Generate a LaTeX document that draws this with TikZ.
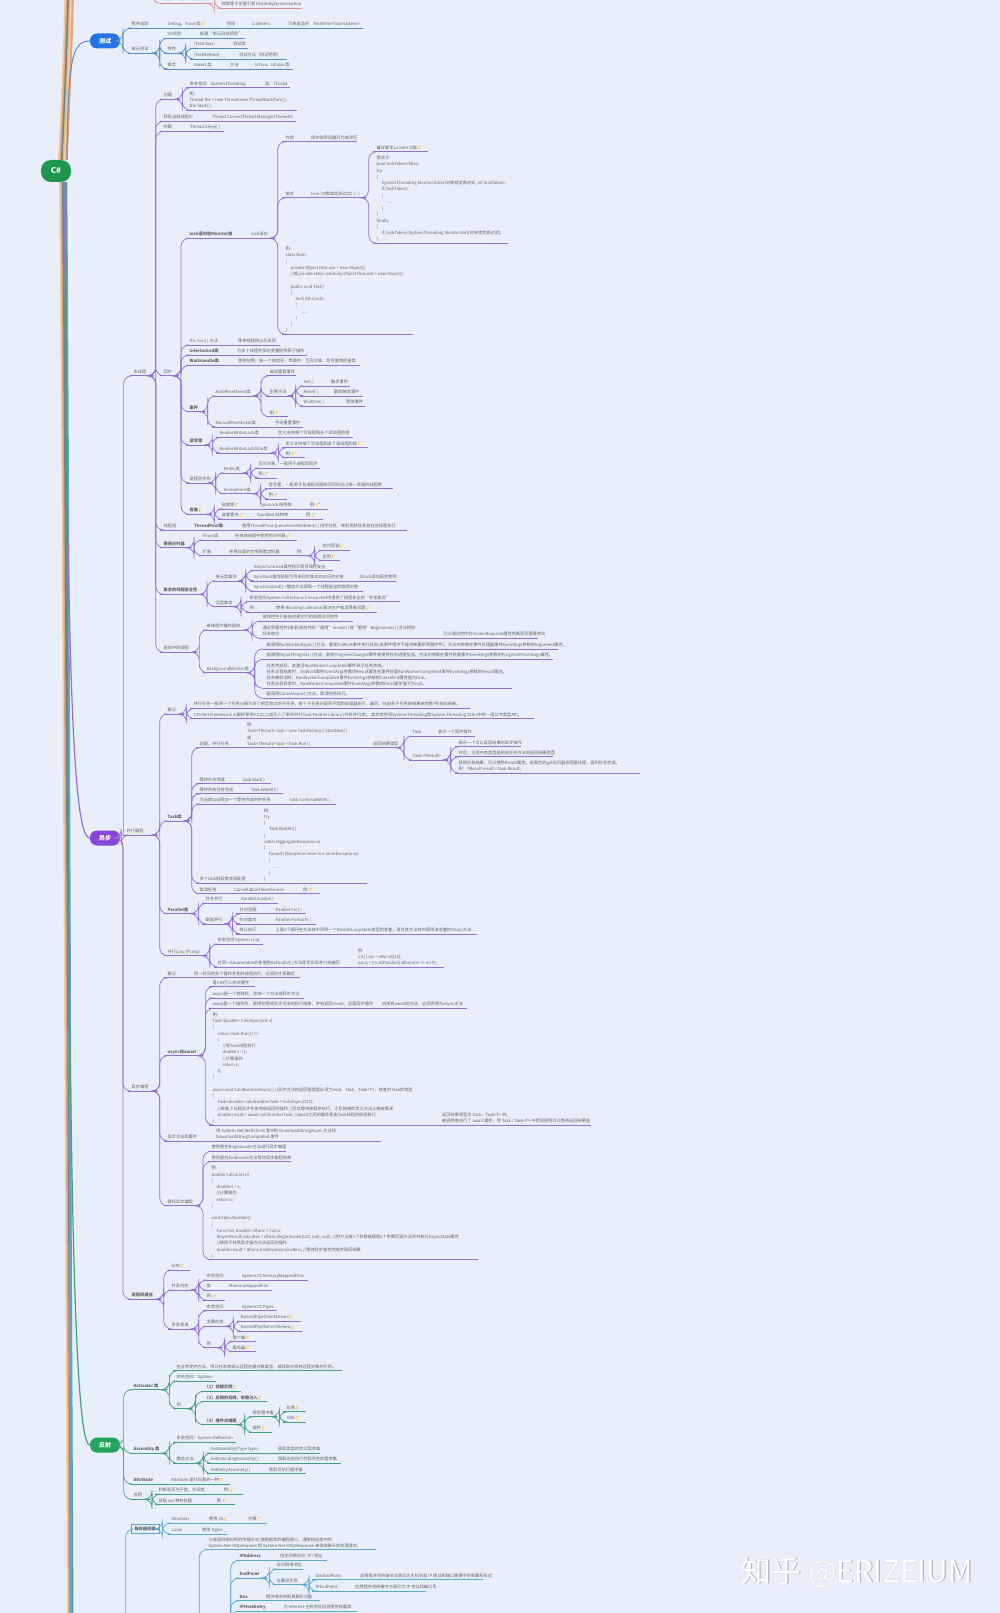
\documentclass[tikz,border=0pt]{standalone}
\usepackage{fontspec}
\setmainfont{Noto Sans CJK SC}
\usetikzlibrary{calc,backgrounds}
\definecolor{pagebg}{RGB}{232,239,250}
\definecolor{txtgray}{RGB}{98,98,98}
\definecolor{pinkline}{RGB}{215,140,150}
\definecolor{testblue}{RGB}{90,140,200}
\definecolor{testpill}{RGB}{38,115,225}
\definecolor{asyncline}{RGB}{148,112,208}
\definecolor{asyncpill}{RGB}{135,70,215}
\definecolor{reflline}{RGB}{70,160,125}
\definecolor{reflpill}{RGB}{34,165,90}
\definecolor{rootgreen}{RGB}{30,150,78}
\definecolor{netline}{RGB}{90,170,205}
\definecolor{peach}{RGB}{244,205,165}
\definecolor{tan}{RGB}{222,165,120}
\definecolor{slate}{RGB}{115,125,140}
\definecolor{khaki}{RGB}{205,195,130}
\definecolor{salmon}{RGB}{235,160,130}
\definecolor{teal}{RGB}{75,160,150}
\definecolor{steel}{RGB}{105,160,200}
\definecolor{icoline}{RGB}{240,175,60}
\definecolor{icofill}{RGB}{252,240,200}
\colorlet{brc}{testblue}
\tikzset{
    topic/.style={anchor=south west,inner xsep=0pt,inner ysep=0.3pt,text=txtgray,font=\fontsize{4.2}{6.25}\selectfont},
    tline/.style={draw=brc,line width=.7pt},
    link/.style={draw=brc,line width=.7pt,rounded corners=8pt},
    mainnode/.style={rounded corners=7pt,text=white,font=\fontsize{6}{7}\selectfont\bfseries,minimum width=30pt,minimum height=15pt,inner sep=0pt},
    bundle/.style={line width=2pt},
}
% curved link between two named points
\newcommand\lk[2]{\draw[link] (#1) -| ($(#1)!.35!(#2)$) |- (#2);}
% topic: name, parent, x from, x to, y of the underline, text
\newcommand\tpc[6]{%
    \pgfmathsetmacro\tpw{#4-#3}%
    \node[topic] (#1) at (#3,#5) {\makebox[\tpw pt][l]{\begin{tabular}[b]{@{\hspace{3.5pt}}l@{}}#6\end{tabular}}};%
    \draw[tline] (#1.south west) -- (#1.south east);%
    \ifx\relax#2\relax\else\lk{#2.south east}{#1.south west}\fi}
% topic in line with the one before: name, before, x of text, x to, y, text
\newcommand\tch[6]{%
    \pgfmathsetmacro\tcx{#3-3.5}%
    \tpc{#1}{}{\tcx}{#4}{#5}{#6}%
    \draw[tline] (#2.south east) -- (#1.south west);}
\newcommand\ico{\,\tikz[x=1pt,y=1pt,baseline=0.2pt]{\fill[icofill] (2,1.8) circle (1.8);\draw[icoline,line width=.45pt] (3.2,3.2) arc (50:250:1.8);}}
\newcommand\ind{\hspace*{5pt}}

\begin{document}
\begin{tikzpicture}[x=1pt,y=-1pt]
    \useasboundingbox (0,0) rectangle (1000,1613);

    % Root
    \node[mainnode,fill=rootgreen,rounded corners=10pt,minimum height=22pt,font=\fontsize{8}{9}\selectfont\bfseries] (csharp) at (56,171) {C\#};

    % Free ends of the branches that leave the picture
    \coordinate (pinkfrom) at (148,-20);
    \coordinate (netfrom) at (123,1630);
    \coordinate (httpfrom) at (196,1630);
    \coordinate (ipfrom) at (228,1630);

    % Main branch nodes
    \node[mainnode,fill=testpill] (ceshi) at (105,41) {测试};
    \node[mainnode,fill=asyncpill] (yibu) at (105,838) {异步};
    \node[mainnode,fill=reflpill] (fanshe) at (105,1445) {反射};

    \begin{scope}[on background layer]
        \fill[pagebg] (0,0) rectangle (1000,1613);
        \foreach \dx/\cc in {3/peach,4.5/tan,6/slate,7.5/khaki,9/peach,10.5/salmon}
            \draw[bundle,\cc] ($(csharp.north)+(\dx,0)$) .. controls +(3,-60) and +(-1.5,55) .. +(6.5,-165);
        \foreach \dx/\cc in {4/peach,5.5/tan,7/slate,8.5/teal}
            \draw[bundle,\cc] ($(csharp.south)+(\dx,0)$) .. controls +(3,300) and +(-3,-640) .. +(8,1440);
        \draw[line width=2.6pt,steel] ($(csharp.south)+(10,0)$) .. controls +(2,300) and +(-1,-640) .. +(5,1440);
        \draw[line width=1pt,testblue] ($(csharp.north)+(11,0)$) .. controls +(1,-100) and +(-18,0) .. (ceshi.west);
        \draw[line width=1.2pt,asyncline] ($(csharp.south)+(8,0)$) .. controls +(4,420) and +(-20,0) .. (yibu.west);
        \draw[line width=1.2pt,reflline] ($(csharp.south)+(10,0)$) .. controls +(2,820) and +(-20,0) .. (fanshe.west);
    \end{scope}

    % Exceptions (end of the branch above)
    \colorlet{brc}{pinkline}
    \tpc{yichang}{}{160}{212}{3.3}{处理 Exception 类异常}
    \lk{pinkfrom}{yichang.south west}
    \tpc{chuling}{yichang}{218}{302}{8.3}{除数等于定值引发 DivideByZeroException}

    % Testing
    \colorlet{brc}{testblue}
    \tpc{zhuizong}{}{128}{165}{28}{程序追踪}
    \lk{ceshi.east}{zhuizong.south west}
    \tch{debug}{zhuizong}{168}{225}{28}{Debug、Trace 类\ico}
    \tch{zhenting}{debug}{227}{250}{28}{侦听}
    \tch{listeners}{zhenting}{252}{285}{28}{Listeners}
    \tch{kelai}{listeners}{288}{311}{28}{可来自监听}
    \tch{twtl}{kelai}{313}{363}{28}{TextWriterTraceListener}
    \tpc{danyuan}{}{128}{157}{53.3}{单元测试}
    \lk{ceshi.east}{danyuan.south west}
    \tpc{vsproj}{danyuan}{164}{198}{38.3}{VS项目}
    \tch{xinjian}{vsproj}{200}{245}{38.3}{新建“单元测试项目”}
    \tpc{texing}{danyuan}{164}{183}{53.3}{特性}
    \tpc{testclass}{texing}{190}{232}{48.3}{[TestClass]}
    \tch{ceshilei}{testclass}{233}{248}{48.3}{测试类}
    \tpc{testmethod}{texing}{190}{237}{59}{[TestMethod]}
    \tch{ceshifa}{testmethod}{239}{287}{59}{测试方法（测试用例）}
    \tpc{duanyan}{danyuan}{164}{192}{69}{断言}
    \tch{assert}{duanyan}{194}{228}{69}{Assert 类}
    \tch{fangfa}{assert}{230}{252}{69}{方法}
    \tch{istrue}{fangfa}{255}{293}{69}{IsTrue、IsFalse 等}

    % Multithreading
    \colorlet{brc}{asyncline}
    \tpc{duo}{}{130}{153}{375.7}{多线程}
    \lk{yibu.east}{duo.south west}
    \tpc{chuangjian}{duo}{160}{180}{99.3}{创建}
    \tpc{nsthread}{chuangjian}{186}{263}{87.7}{命名空间：System.Threading}
    \tch{clsthread}{nsthread}{265}{290}{87.7}{类：Thread}
    \tpc{egthread}{chuangjian}{186}{297}{110.3}{例:\\Thread the = new Thread(new ThreadStart(Func));\\the.Start( );}
    \tpc{dangqian}{duo}{160}{210}{121.3}{获取当前线程ID}
    \tch{managedid}{dangqian}{212}{296}{121.3}{Thread.CurrentThread.ManagedThreadId}
    \tpc{xiumian}{duo}{160}{187}{131.3}{休眠}
    \tch{sleep}{xiumian}{190}{224}{131.3}{Thread.Sleep( )}
    \tpc{tongbu}{duo}{160}{178}{375.7}{同步}

    % lock and Monitor
    \tpc{lockcls}{tongbu}{186}{249}{238.3}{\textbf{lock语句和Monitor类}}
    \tch{lockstmt}{lockcls}{251}{275}{238.3}{lock语句}
    \tpc{zuoyong}{lockstmt}{282}{309}{141.7}{作用}
    \tch{baohu}{zuoyong}{311}{357}{141.7}{保护临界段避开为临界区}
    \tpc{geshi}{lockstmt}{282}{309}{197.7}{格式}
    \tch{lockfmt}{geshi}{311}{366}{197.7}{lock (对象锁定表达式) \{...\}}
    \tpc{zuihao}{lockfmt}{373}{428}{151.7}{最好锁定 private 对象\ico}
    \tpc{dengxiao}{lockfmt}{373}{508}{243.3}{等效于:\\bool lockTaken=false;\\try\\\{\\\ind System.Threading.Monitor.Enter(对象锁定表达式, ref lockTaken);\\\ind if (lockTaken)\\\ind \{\\\ind\ind ......\\\ind \}\\\}\\finally\\\{\\\ind if (lockTaken) System.Threading.Monitor.Exit(对象锁定表达式);\\\}}
    \tpc{egnum}{lockstmt}{282}{413}{334.3}{例:\\class Num\\\{\\\ind private Object thisLock = new Object();\\\ind //或 private static readonly Object thisLock = new Object();\\\\\ind public void Test()\\\ind \{\\\ind\ind lock (thisLock)\\\ind\ind \{\\\ind\ind\ind ......\\\ind\ind \}\\\ind \}\\\}}

    % Other synchronisation
    \tpc{join}{tongbu}{186}{236}{345}{thr.Join( ) 方法}
    \tch{dengdai}{join}{238}{280}{345}{等待线程终止后返回}
    \tpc{interlocked}{tongbu}{186}{234}{355}{\textbf{Interlocked类}}
    \tch{yuanzi}{interlocked}{237}{307}{355}{为多个线程共享的变量提供原子操作}
    \tpc{waithandle}{tongbu}{186}{234}{365.3}{\textbf{WaitHandle类}}
    \tch{jilei}{waithandle}{238}{360}{365.3}{等待句柄，接一个接信号、等事件、互斥对象、信号量等的基类}
    \tpc{shijian}{tongbu}{186}{205}{411.7}{\textbf{事件}}
    \tpc{autoreset}{shijian}{212}{258}{396}{AutoResetEvent类}
    \tpc{zidong}{autoreset}{266}{296}{375.7}{自动重置事件}
    \tpc{zhuyao}{autoreset}{266}{293}{396}{主要方法}
    \tpc{setfn}{zhuyao}{300}{328}{386}{Set( )}
    \tch{chufa}{setfn}{331}{350}{386}{触发事件}
    \tpc{resetfn}{zhuyao}{300}{332}{396}{Reset( )}
    \tch{jiechu}{resetfn}{334}{363}{396}{解除触发事件}
    \tpc{waitone}{zhuyao}{300}{343}{406.3}{WaitOne( )}
    \tch{dengshi}{waitone}{346}{365}{406.3}{等待事件}
    \tpc{egauto}{autoreset}{266}{288}{416.7}{例:\ico}
    \tpc{manualreset}{shijian}{212}{272}{427}{ManualResetEvent类}
    \tch{shoudong}{manualreset}{275}{303}{427}{手动重置事件}
    \tpc{duxie}{tongbu}{186}{210}{445}{\textbf{读写锁}}
    \tpc{rwlock}{duxie}{216}{276}{437.3}{ReaderWriterLock类}
    \tch{rwdef}{rwlock}{278}{353}{437.3}{定义支持单个写线程和多个读线程的锁}
    \tpc{rwslim}{duxie}{216}{276}{453}{ReaderWriterLockSlim类}
    \tpc{rwslimdef}{rwslim}{282}{368}{447.7}{定义支持单个写线程和多个读线程的锁\ico}
    \tpc{egslim}{rwslim}{282}{305}{457.7}{例:\ico}
    \tpc{jincheng}{tongbu}{186}{213}{483}{进程同步的}
    \tpc{mutex}{jincheng}{220}{248}{473}{Mutex类}
    \tpc{huchi}{mutex}{255}{320}{468}{互斥对象，一般用于进程间同步}
    \tpc{egmutex}{mutex}{255}{277}{478}{例:\ico}
    \tpc{semaphore}{jincheng}{220}{258}{493.7}{Semaphore类}
    \tpc{xinhao}{semaphore}{265}{393}{488.7}{信号量，一般用于在进程间限制可同时访问某一资源的线程数}
    \tpc{egsema}{semaphore}{265}{287}{499}{例:\ico}
    \tpc{zixuan}{tongbu}{186}{212}{514.3}{\textbf{自旋}\ico}
    \tpc{zxsuo}{zixuan}{218}{258}{509}{自旋锁\ico}
    \tch{spinlock}{zxsuo}{260}{308}{509}{SpinLock 结构体}
    \tch{egspinl}{spinlock}{310}{328}{509}{例:\ico}
    \tpc{zxdeng}{zixuan}{218}{255}{519.3}{自旋等待\ico}
    \tch{spinwait}{zxdeng}{257}{305}{519.3}{SpinWait 结构体}
    \tch{egspinw}{spinwait}{306}{323}{519.3}{例:\ico}

    % Thread pool, timers, collections, forms
    \tpc{xianchengchi}{duo}{160}{192}{530}{线程池}
    \tch{threadpool}{xianchengchi}{194}{240}{530}{\textbf{ThreadPool类}}
    \tch{queueuser}{threadpool}{242}{407}{530}{使用ThreadPool.QueueUserWorkItem( ) 排字任务，来利用默任务放在池线程执行}
    \tpc{jishiqi}{duo}{160}{191}{547.7}{\textbf{使用计时器}}
    \tpc{timercls}{jishiqi}{199}{233}{540}{Timer类}
    \tch{dandu}{timercls}{235}{297}{540}{在单独线程中使用的计时器\ico}
    \tpc{kuozhan}{jishiqi}{199}{228}{555.7}{扩展}
    \tch{zhuanyong}{kuozhan}{229}{295}{555.7}{并用处理的专用隐置定时器}
    \tch{egtimer}{zhuanyong}{297}{312}{555.7}{例:}
    \tpc{huidiao}{egtimer}{319}{350}{550.3}{定时回调\ico}
    \tpc{dingyong}{egtimer}{319}{340}{560.7}{定用\ico}
    \tpc{jihe}{duo}{160}{204}{594.3}{\textbf{集合的线程安全性}}
    \tpc{danyuanxing}{jihe}{212}{243}{581}{单元型集合}
    \tpc{issync}{danyuanxing}{250}{333}{570.7}{IsSynchronized属性指示是否线程安全}
    \tpc{syncroot}{danyuanxing}{250}{358}{581}{SyncRoot属性获取可用来同步集合的访问的对象}
    \tch{lockuse}{syncroot}{359}{396}{581}{与lock语句配合使用}
    \tpc{syncfn}{danyuanxing}{250}{363}{591.3}{Synchronized()—静态方法获取一个线程安全的临界对象}
    \tpc{fanxing}{jihe}{212}{238}{606.7}{泛型集合}
    \tpc{concurrent}{fanxing}{246}{400}{601.7}{命名空间System.Collections.Concurrent中提供了线程安全的“并发集合”}
    \tpc{egcoll}{fanxing}{246}{275}{612}{例:}
    \tch{blocking}{egcoll}{276}{377}{612}{使用 BlockingCollection 解决生产者消费者问题\ico}
    \tpc{chuangti}{duo}{160}{197}{652.3}{窗体中的线程}
    \tpc{dancaozuo}{chuangti}{203}{248}{630}{单线程中操作窗体}
    \tpc{zhiyong}{dancaozuo}{259}{353}{621}{窗体控件只能由创建它们的线程访问控件}
    \tpc{tongguo}{dancaozuo}{259}{441}{638.3}{通过界面控件(继承)或控件的“调用”Invoke( )或“重用”BeginInvoke( )方法将控\\任务转交}
    \tch{invokereq}{tongguo}{443}{538}{638.3}{可以通过控件的InvokeRequired属性判断是否需要转交}
    \tpc{bgworker}{chuangti}{203}{250}{672.7}{BackgroundWorker类}
    \tpc{bgrun}{bgworker}{263}{558}{649}{能调用RunWorkerAsync( )方法，激发DoWork事件执行任务(该事件程序不能用来更新界面控件)。方法的参数在事件处理器事件EventArgs参数的Argument属性。}
    \tpc{bgreport}{bgworker}{263}{553}{659.3}{能调用ReportProgress( )方法，激发ProgressChanged事件来提供任务进度信息。方法的参数在事件处理事件EventArgs参数的ProgressPercentage属性。}
    \tpc{bgdone}{bgworker}{263}{512}{688.3}{任务完成后，会激活RunWorkerCompleted事件表示任务完成。\\任务正常结束时，DoWork事件EventArgs参数的Result属性在事件处理RunWorkerCompleted事件EventArgs参数的Result属性。\\任务被取消时，RunWorkerCompleted事件EventArgs参数的Cancelled属性值为true。\\任务出现异常时，RunWorkerCompleted事件EventArgs参数的Error属性值不为null。}
    \tpc{bgcancel}{bgworker}{263}{363}{698.3}{能调用CancelAsync( )方法，取消任务执行。}

    % Parallel programming
    \tpc{bingxing}{}{123}{157}{835}{并行编程}
    \lk{yibu.east}{bingxing.south west}
    \tpc{gainian}{bingxing}{164}{184}{714}{概念}
    \tpc{fenjie}{gainian}{190}{470}{708.3}{并行任务一般将一个任务分解为多个相互独立的子任务，每个子任务分配到不同的处理器执行，最后，往由各子任务的结果来完整?任务的结果。}
    \tpc{tpl}{gainian}{190}{534}{718.7}{C\#3.Net Framework 4(最好使用4.5)以上成引入了新的并行Task Parallel Library (任务并行库)，其命名空间System.Threading和System.Threading.Tasks中的一组公共类型API。}
    \tpc{taskcls}{bingxing}{164}{189}{821}{\textbf{Task类}}
    \tpc{chuangbing}{taskcls}{196}{243}{747.7}{创建、并行任务}
    \tch{egtask}{chuangbing}{247}{372}{747.7}{例:\\Task<TResult> task = new TaskFactory().StartNew( )\\或\\Task<TResult> task = Task.Run( )}
    \tch{fanhui}{egtask}{373}{401}{747.7}{返回结果类型}
    \tpc{tasktype}{fanhui}{409}{437}{736.3}{Task}
    \tch{yibucz}{tasktype}{438}{475}{736.3}{表示一个异步操作}
    \tpc{tasktr}{fanhui}{409}{448}{760}{Task<TResult>}
    \tpc{trone}{tasktr}{455}{521}{746.7}{表示一个可以返回结果的异步操作}
    \tpc{trtwo}{tasktr}{455}{553}{756.7}{并且，注意中类类型是用该任务方法的返回结果类型}
    \tpc{trthree}{tasktr}{455}{640}{773}{获得任务结果，可以使用Result属性。该属性的get访问器会阻塞线程，直到任务完成。\\例：TResult result = task.Result;}
    \tpc{waitone2}{taskcls}{196}{241}{783.7}{等待任务完成}
    \tch{taskwait}{waitone2}{243}{271}{783.7}{task.Wait( )}
    \tpc{waitall}{taskcls}{196}{249}{793.7}{等待所有任务完成}
    \tch{taskwaitall}{waitall}{251}{283}{793.7}{Task.WaitAll( )}
    \tpc{fujia}{taskcls}{196}{288}{804}{为当前task附加一个等待完成时的任务}
    \tch{contwith}{fujia}{290}{336}{804}{task.ContinueWith( )}
    \tpc{paoyc}{taskcls}{196}{262}{883.3}{多个task抛异常会再处理}
    \tch{egtry}{paoyc}{264}{367}{883.3}{例:\\try\\\{\\\ind Task.WaitAll( )\\\}\\catch (AggregateException e)\\\{\\\ind foreach (Exception inner in e.InnerExceptions)\\\ind \{\\\ind\ind ......\\\ind \}\\\}}
    \tpc{quxiao}{taskcls}{196}{232}{893.7}{取消任务}
    \tch{canceltoken}{quxiao}{234}{301}{893.7}{CancellationTokenSource}
    \tch{egcancel}{canceltoken}{303}{320}{893.7}{例:\ico}
    \tpc{parallel}{bingxing}{164}{196}{913.7}{\textbf{Parallel类}}
    \tpc{renwubx}{parallel}{202}{239}{903.3}{任务并行}
    \tch{parinvoke}{renwubx}{241}{278}{903.3}{Parallel.Invoke( )}
    \tpc{shujubx}{parallel}{202}{230}{924}{数据并行}
    \tpc{fanwei}{shujubx}{236}{274}{913.7}{针对范围}
    \tch{parfor}{fanwei}{275.5}{306}{913.7}{Parallel.For( )}
    \tpc{duijihe}{shujubx}{236}{274}{924}{针对集合}
    \tch{parforeach}{duijihe}{275.5}{316}{924}{Parallel.ForEach( )}
    \tpc{zhongzhi}{shujubx}{236}{274}{934}{终止执行}
    \tch{stopfn}{zhongzhi}{275.5}{477}{934}{上面3个循环在方法体中声明一个ParallelLoopState类型的变量，再在其方法体内调用该变量的Stop()方法}
    \tpc{plinq}{bingxing}{164}{207}{955.7}{并行Linq (PLinq)}
    \tpc{nslinq}{plinq}{214}{263}{944}{命名空间 System.Linq}
    \tpc{asparallel}{plinq}{214}{355}{967}{对同一Enumerable对象使用AsParallel( )方法即可实现并行的遍历}
    \tch{eglinq}{asparallel}{358}{444}{967}{例:\\int[ ] var = new int[10];\\var q = (m.AsParallel().Where(m => m>5);}

    % Asynchronous programming
    \tpc{yibubc}{}{128}{157}{1091}{异步编程}
    \lk{yibu.east}{yibubc.south west}
    \tpc{gainian2}{yibubc}{164}{192}{977.7}{概念}
    \tch{tongyi}{gainian2}{194}{300}{977.7}{同一时间的多个操作并发的线程执行，必须时才再确定}
    \tpc{asyncawait}{yibubc}{164}{203}{1055.7}{\textbf{async和await}}
    \tpc{guanjian}{asyncawait}{209}{255}{986.7}{是C\#5引入的关键字}
    \tpc{asyncmod}{asyncawait}{209}{304}{998}{async是一个修饰符，修饰一个方法成异步方法}
    \tpc{awaitop}{asyncawait}{209}{380}{1008.3}{await是一个操作符，表明在等待异步方法的执行结束，并有返回result，后面异步操作}
    \tch{neibu}{awaitop}{382}{467}{1008.3}{内部有await的方法，必须声明为async方法}
    \tpc{egasync}{asyncawait}{209}{440}{1125}{例:\\Task<double> CalcAsync(int n)\\\{\\\ind return Task.Run(() =>\\\ind \{\\\ind\ind //用Task线程执行\\\ind\ind double s = 1;\\\ind\ind //计算操作\\\ind\ind return s;\\\ind \});\\\}\\\\async void CalcNumberAsync( ) //异步方法的返回值类型必须为void、Task、Task<T>，或者对Task的类型\\\{\\\ind Task<double> calcNumberTask = CalcAsync(123);\\\ind //单独了长耗异步任务完成返回的操作 //后续等待该程序执行，之后结果的定义方法上便被等来\\\ind double result = await calcNumberTask; //await之后的操作是由Task线程的继续执行\\\}}
    \tch{fanhuizhi}{egasync}{442}{591}{1125}{返回结果类型为 Task、Task<T> 时,\\被调用者执行了 await 操作，而 Task / Task<T> 中检测调用可以等待返回结果值}
    \tpc{yibufa}{yibubc}{164}{212}{1141}{异步方法和事件}
    \tch{webclient}{yibufa}{216}{381}{1141}{用 System.Net.WebClient 类中的 DownloadStringAsync 方法和\\DownloadStringCompleted 事件}
    \tpc{weituo}{yibubc}{164}{200}{1205.7}{委托异步编程}
    \tpc{begininv}{weituo}{208}{286}{1151.3}{使用委托BeginInvoke方法进行异步编程}
    \tpc{endinv}{weituo}{208}{291}{1161.7}{使用委托EndInvoke方法等待异步编程结束}
    \tpc{egcalcu}{weituo}{208}{478}{1259.7}{例:\\double Calcu(int n)\\\{\\\ind double s = 1;\\\ind //计算操作\\\ind return s;\\\}\\\\void CalcuNumber()\\\{\\\ind Func<int, double> dFunc = Calcu;\\\ind IAsyncResult calcuRes = dFunc.BeginInvoke(123, null, null); //把方法放1个参数被赋值2个参数回调方法并并执行AsyncState属性\\\ind //继续干耗费异步操作方法返回的操作\\\ind double result = dFunc.EndInvoke(calcuRes); //等待异步操作完成并取回结果\\\}}

    % Inter-process communication
    \tpc{jinchengjian}{}{128}{161}{1299.3}{\textbf{进程间通信}}
    \lk{yibu.east}{jinchengjian.south west}
    \tpc{fenbu}{jinchengjian}{168}{190}{1270}{分布\ico}
    \tpc{gongxiang}{jinchengjian}{168}{196}{1290}{共享内存}
    \tpc{nsmem}{gongxiang}{203}{240}{1280}{命名空间}
    \tch{memfiles}{nsmem}{241.7}{308}{1280}{System.IO.MemoryMappedFiles}
    \tpc{lei}{gongxiang}{203}{228}{1290.3}{类}
    \tch{memfile}{lei}{229}{272}{1290.3}{MemoryMappedFile}
    \tpc{egmem}{gongxiang}{203}{225}{1300.3}{例:\ico}
    \tpc{guandao}{jinchengjian}{168}{196}{1329}{命名管道}
    \tpc{nspipe}{guandao}{203}{240}{1310.7}{命名空间}
    \tch{iopipes}{nspipe}{241.7}{277}{1310.7}{System.IO.Pipes}
    \tpc{zhuyaolei}{guandao}{203}{231}{1326.3}{主要的类}
    \tpc{pipeclient}{zhuyaolei}{237}{301}{1321.3}{NamedPipeClientStream\ico}
    \tpc{pipeserver}{zhuyaolei}{237}{302}{1331.3}{NamedPipeServerStream\ico}
    \tpc{egpipe}{guandao}{203}{222}{1347.7}{例}
    \tpc{kehuduan}{egpipe}{229}{256}{1341.7}{客户端\ico}
    \tpc{fuwuqi}{egpipe}{229}{256}{1351.7}{服务器\ico}

    % Reflection
    \colorlet{brc}{reflline}
    \tpc{activator}{}{130}{167}{1389.7}{\textbf{Activator 类}}
    \lk{fanshe.east}{activator.south west}
    \tpc{baohan}{activator}{173}{342}{1370.7}{包含特定的方法，用以在本地或从远程创建对象类型，或获取对现有远程对象的引用。}
    \tpc{nssys}{activator}{173}{216}{1381}{命名空间：System}
    \tpc{egact}{activator}{173}{192}{1408.7}{例:}
    \tpc{shili}{egact}{201}{241}{1391.3}{\textbf{（1）创建实例}\ico}
    \tpc{houqi}{egact}{201}{267}{1401.7}{\textbf{（2）后期的后绑、依赖注入}\ico}
    \tpc{chajian}{egact}{201}{242}{1424.7}{\textbf{（3）插件式编程}}
    \tpc{bangding}{chajian}{249}{277}{1416.7}{绑定程序集}
    \tpc{yingyong}{bangding}{283}{306}{1411.7}{应用\ico}
    \tpc{sdk}{bangding}{283}{306}{1422}{SDK\ico}
    \tpc{chajianb}{chajian}{249}{272}{1432.3}{插件\ico}
    \tpc{assembly}{}{130}{167}{1453.3}{\textbf{Assembly 类}}
    \lk{fanshe.east}{assembly.south west}
    \tpc{nsrefl}{assembly}{173}{236}{1442.3}{命名空间：System.Reflection}
    \tpc{jingtai}{assembly}{173}{201}{1463.3}{静态方法}
    \tpc{getasm}{jingtai}{207}{276}{1453}{GetAssembly(Type type)}
    \tch{leixing}{getasm}{278}{320}{1453}{获取类型的定义程序集}
    \tpc{getexec}{jingtai}{207}{276}{1463.3}{GetExecutingAssembly( )}
    \tch{dangqiancx}{getexec}{278}{341}{1463.3}{获取当前执行代码所在的程序集}
    \tpc{getentry}{jingtai}{207}{268}{1473.7}{GetEntryAssembly( )}
    \tch{kezhixing}{getentry}{269}{306}{1473.7}{获取可执行程序集}
    \tpc{attribute}{}{130}{170}{1484}{\textbf{Attribute}}
    \lk{fanshe.east}{attribute.south west}
    \tch{shitu}{attribute}{171}{230}{1484}{Attribute 是代码图的一种\ico}
    \tpc{yingyongb}{}{130}{150}{1499.3}{应用}
    \lk{fanshe.east}{yingyongb.south west}
    \tpc{panduan}{yingyongb}{155}{222}{1494.3}{判断是否为子类、实现类}
    \tch{egpd}{panduan}{224}{243}{1494.3}{例:\ico}
    \tpc{huoqu}{yingyongb}{155}{214}{1504.7}{获取 xxx 特有标题}
    \tch{eghq}{huoqu}{216.7}{235}{1504.7}{例:\ico}

    % Network
    \colorlet{brc}{netline}
    \node[draw=netline,line width=.7pt,text=txtgray,font=\fontsize{4.2}{5}\selectfont\bfseries,minimum width=28pt,minimum height=9.5pt,inner sep=0pt] (fuwu) at (145,1529) {服务器搭建};
    \lk{netfrom}{fuwu.west}
    \tpc{windows}{}{168}{207}{1523}{Windows}
    \lk{fuwu.east}{windows.south west}
    \tch{shiyongiis}{windows}{209}{246}{1523}{使用 IIS\ico}
    \tch{buzhou}{shiyongiis}{248}{267}{1523}{步骤\ico}
    \tpc{linux}{}{168}{200}{1534}{Linux}
    \lk{fuwu.east}{linux.south west}
    \tch{nginx}{linux}{202}{227}{1534}{使用 Nginx}
    \tpc{httpreq}{}{205}{376}{1549.7}{与底层网络句柄的传输方式(使用超类的编程接口，通常相应类中的\\System.Net.HttpRequest 和 System.Net.HttpResponse 来接收聊天的处理请求。}
    \lk{httpfrom}{httpreq.south west}
    \tpc{ipaddress}{}{236}{278}{1560.3}{\textbf{IPAddress}}
    \lk{ipfrom}{ipaddress.south west}
    \tch{xieyi}{ipaddress}{280}{327}{1560.3}{指定网络协议 (IP) 地址}
    \tpc{endpoint}{}{236}{267}{1578}{\textbf{EndPoint}}
    \lk{ipfrom}{endpoint.south west}
    \tpc{fangwen}{endpoint}{273}{303}{1569}{访问网络地址}
    \tpc{paisheng}{endpoint}{273}{307}{1584.7}{主要派生类}
    \tpc{dnsend}{paisheng}{312}{358}{1579.7}{DnsEndPoint}
    \tch{dnsendtxt}{dnsend}{360}{483}{1579.7}{应用程序将终端节点表示为主机名或 IP 地址和端口便捷字符串解析形式}
    \tpc{ipend}{paisheng}{312}{353}{1591.3}{IPEndPoint}
    \tch{ipendtxt}{ipend}{355}{426}{1591.3}{应用程序将终端节点表示为 IP 地址和端口号}
    \tpc{dns}{}{236}{262}{1600.7}{\textbf{Dns}}
    \lk{ipfrom}{dns.south west}
    \tch{jiexi}{dns}{266}{320}{1600.7}{提供域名的简易解析功能}
    \tpc{iphost}{}{236}{282}{1611.3}{\textbf{IPHostEntry}}
    \lk{ipfrom}{iphost.south west}
    \tch{rongqi}{iphost}{283.3}{357}{1611.3}{为 Internet 主机地址信息提供容器类}

    % Watermark
    \node[text=black!35,font=\fontsize{30}{30}\selectfont] (markshadow) at (857.8,1572.8) {知乎 @ERIZEIUM};
    \node[text=white,font=\fontsize{30}{30}\selectfont] (mark) at (857,1572) {知乎 @ERIZEIUM};
\end{tikzpicture}
\end{document}
